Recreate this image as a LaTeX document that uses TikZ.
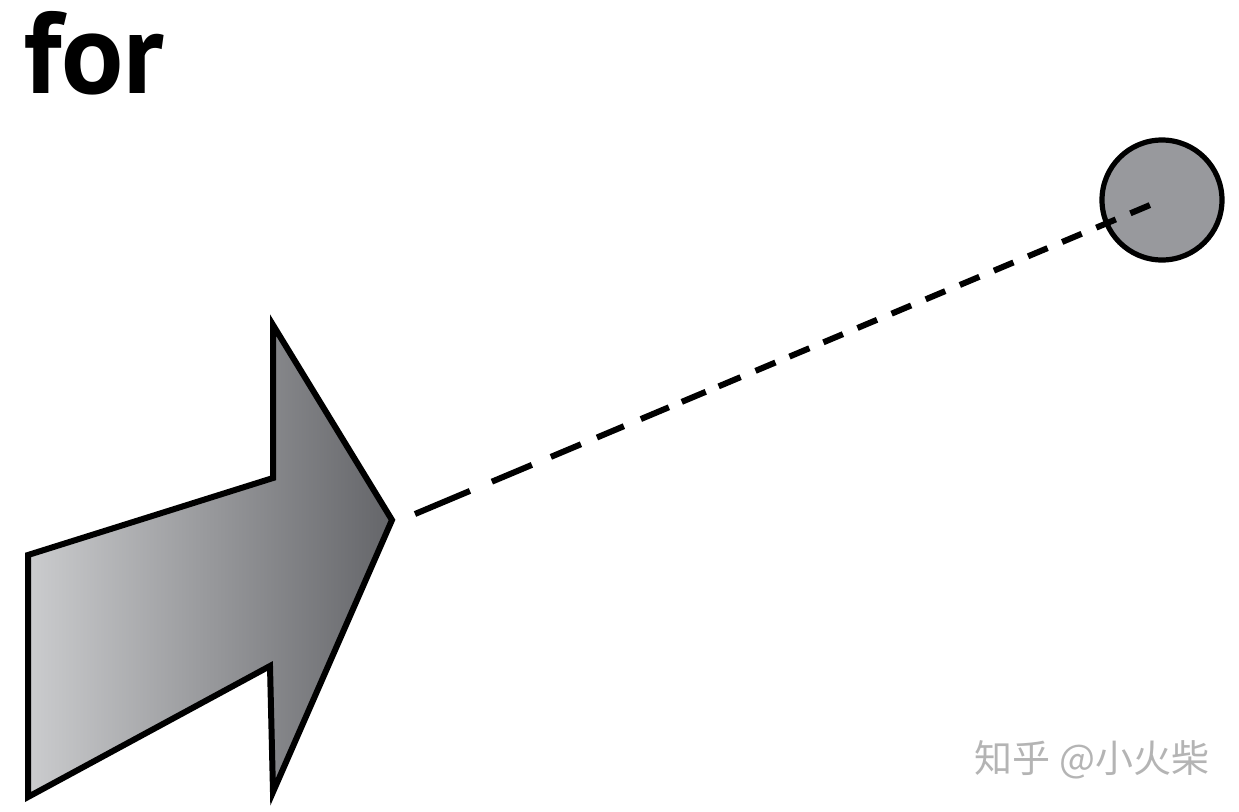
\documentclass[tikz,border=0pt]{standalone}
\usepackage{fontspec}
\newfontfamily\wordfont{PT Sans}
\newfontfamily\cjk{Noto Sans CJK SC}
\definecolor{arrowlight}{RGB}{203,204,206}
\definecolor{arrowdark}{RGB}{100,101,105}
\definecolor{ballgray}{RGB}{152,153,157}
\definecolor{markgray}{RGB}{180,180,180}
\begin{document}
\begin{tikzpicture}[x=0.5pt,y=-0.5pt]
    \tikzstyle{word}=[anchor=base west,inner sep=0pt,font=\wordfont\bfseries\fontsize{58}{64}\selectfont]
    \tikzstyle{bigarrow}=[draw=black,line width=3pt,line join=miter,left color=arrowlight,right color=arrowdark]
    \tikzstyle{ball}=[draw=black,line width=2.6pt,circle,fill=ballgray,minimum size=60pt,inner sep=0pt]
    \tikzstyle{aimline}=[line width=3pt,dash pattern=on 29.8pt off 11.9pt on 21.7pt off 10.3pt on 16.3pt off 8.7pt on 14.6pt off 9.2pt on 15.2pt off 7pt on 13pt off 7pt on 11.9pt off 8.1pt on 10.8pt off 7.6pt on 10.8pt off 7.6pt on 10.6pt off 7.9pt on 10.6pt off 7.9pt on 10.6pt off 7.9pt on 10.6pt off 7.9pt on 10.6pt off 7.9pt on 10.6pt off 7.9pt on 10.6pt off 7.9pt on 10.6pt off 7.9pt on 10.6pt off 7.9pt on 10.6pt off 7.9pt]
    \tikzstyle{credittext}=[inner sep=0pt,text=markgray,font=\cjk\fontsize{19}{22}\selectfont]

    \useasboundingbox (0,0) rectangle (1239,811);

    \node[word] at (24,93) (title) {for};

    % the big arrow
    \coordinate (tip) at (392,520);
    \draw[bigarrow] (28,555) -- (273,478) -- (273,325) -- (tip) -- (273,792)
        -- (270,666) -- (28,797) -- cycle;

    \node[ball] at (1162,200) (target) {};

    \coordinate (start) at (415,514);
    \draw[aimline] (start) -- (target.center);

    \node[credittext] at (1092,760) (credit) {知乎 @小火柴};
\end{tikzpicture}
\end{document}
